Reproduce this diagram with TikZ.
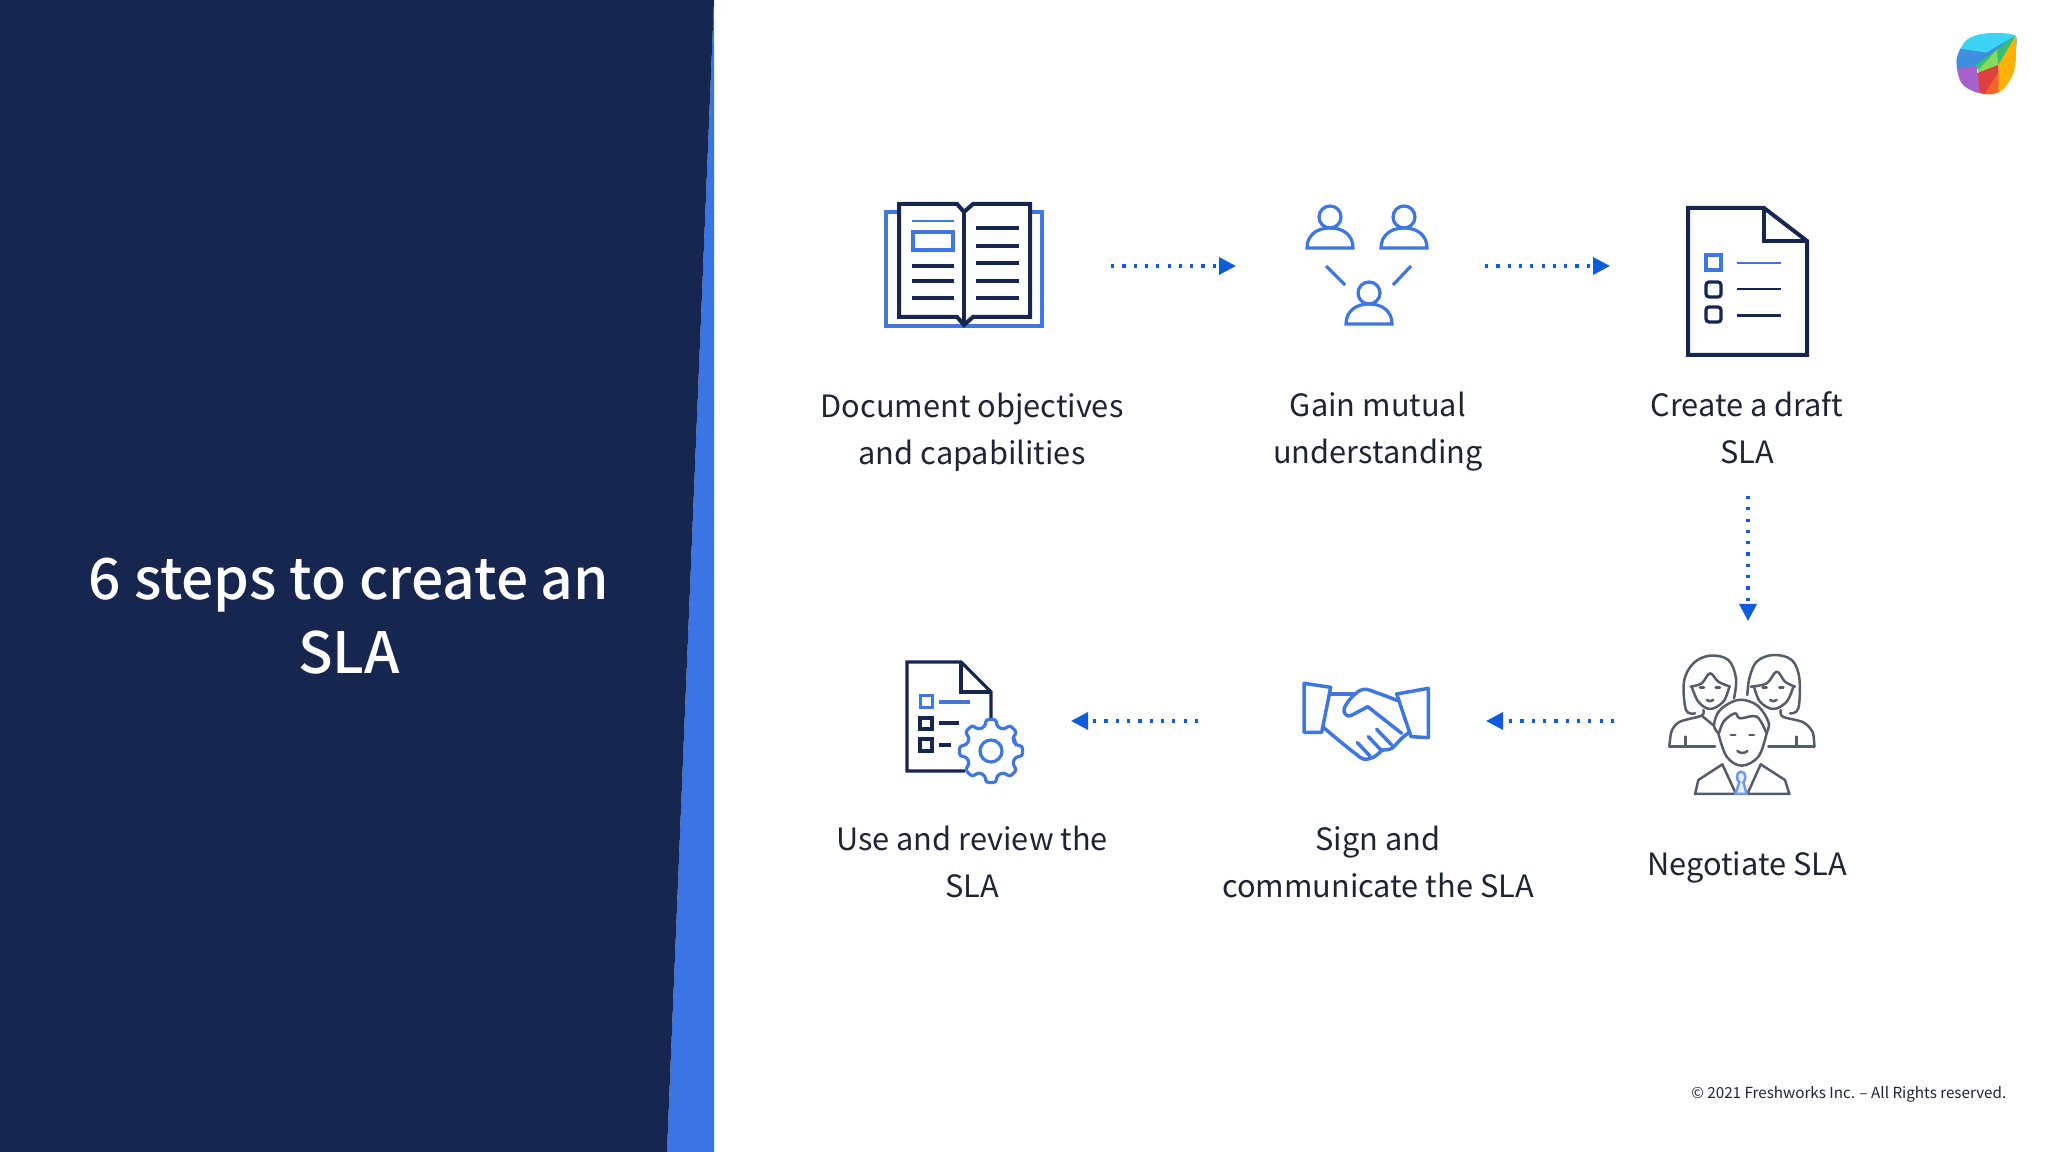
\documentclass[tikz,border=0pt]{standalone}
\usepackage{fontspec}
\setmainfont{Noto Sans CJK SC}
\newfontfamily\titlefont{Noto Sans CJK SC Medium}
\usetikzlibrary{arrows.meta}

\definecolor{navy}{HTML}{17264E}
\definecolor{wedge}{HTML}{3B74E4}
\definecolor{iconblue}{HTML}{3F76DF}
\definecolor{arrowblue}{HTML}{0F5BDC}
\definecolor{textgrey}{HTML}{1F2430}
\definecolor{facegrey}{HTML}{565C68}
\definecolor{logocyan}{HTML}{3CD3F5}
\definecolor{logoblue}{HTML}{3D8EDC}
\definecolor{logogreen}{HTML}{33C270}
\definecolor{logolime}{HTML}{86DB5A}
\definecolor{logoyellow}{HTML}{FFB000}
\definecolor{logored}{HTML}{DE4040}
\definecolor{logoorange}{HTML}{F2642A}
\definecolor{logopurple}{HTML}{A562CC}

\begin{document}
\begin{tikzpicture}[x=0.1mm,y=-0.1mm,
    darkline/.style={navy, line width=0.4mm},
    thinline/.style={navy, line width=0.32mm},
    blueline/.style={iconblue, line width=0.32mm},
    faceline/.style={facegrey, line width=0.25mm, line cap=round, line join=round},
    dotarrow/.style={arrowblue, line width=0.32mm, dash pattern=on 0.32mm off 0.81mm,
        -{Triangle[length=1.7mm,width=1.7mm]}},
    steplabel/.style={textgrey, align=center, font=\fontsize{8.75}{13.4}\selectfont}]
    \useasboundingbox (0,0) rectangle (2048,1152);

    % Left panel and its wedge
    \fill[wedge] (714,0) -- (714,1152) -- (667,1152) -- cycle;
    \fill[navy] (0,0) -- (714,0) -- (667,1152) -- (0,1152) -- cycle;
    \node[white, align=center, font=\titlefont\fontsize{16.2}{21.2}\selectfont] (title) at (349,616)
        {6 steps to create an\\SLA};

    % Logo
    \begin{scope}[shift={(1930,10)},scale=1/3]
        \begin{scope}
            \clip plot[smooth cycle, tension=0.55] coordinates {
                (254,76) (170,70) (110,90) (80,150) (95,220) (150,250) (210,245) (250,190) (258,120)
            };
            \fill[logocyan] (60,50) rectangle (270,160);
            \fill[logoblue] (60,112) -- (170,128) -- (258,76) -- (140,170) -- (60,182) -- cycle;
            \fill[logogreen] (258,76) -- (138,165) -- (150,195) -- (205,165) -- cycle;
            \fill[logolime] (200,120) -- (145,180) -- (150,195) -- (205,165) -- cycle;
            \fill[logoyellow] (258,76) -- (205,165) -- (205,260) -- (270,260) -- cycle;
            \fill[logored] (140,190) -- (205,165) -- (205,260) -- (150,260) -- cycle;
            \fill[logoorange] (205,185) -- (205,260) -- (160,260) -- cycle;
            \fill[logopurple] (60,178) -- (140,168) -- (150,260) -- (60,260) -- cycle;
        \end{scope}
    \end{scope}

    % Book
    \draw[blueline] (886,212) rectangle (1042,326);
    \draw[darkline, fill=white, line join=miter] (899,204) -- (957,204) -- (964,212) -- (973,204) -- (1030,204)
        -- (1030,317) -- (973,317) -- (964,325) -- (957,317) -- (899,317) -- cycle;
    \draw[darkline] (964,212) -- (964,325);
    \draw[iconblue, line width=0.2mm] (912,221) -- (954,221);
    \draw[blueline] (913,232) rectangle (953,250);
    \draw[thinline] (912,266) -- (954,266);
    \draw[thinline] (912,281) -- (954,281);
    \draw[thinline] (912,298) -- (954,298);
    \draw[thinline] (976,228) -- (1019,228);
    \draw[thinline] (976,246) -- (1019,246);
    \draw[thinline] (976,263) -- (1019,263);
    \draw[thinline] (976,281) -- (1019,281);
    \draw[thinline] (976,298) -- (1019,298);
    \node[steplabel] (document) at (972,432) {Document objectives\\and capabilities};

    % Three people
    \draw[blueline] (1330,217) circle (11);
    \draw[blueline] (1307,248) .. controls (1307,235) and (1317,228) .. (1330,228)
        .. controls (1343,228) and (1353,235) .. (1353,248) -- cycle;
    \draw[blueline] (1404,217) circle (11);
    \draw[blueline] (1381,248) .. controls (1381,235) and (1391,228) .. (1404,228)
        .. controls (1417,228) and (1427,235) .. (1427,248) -- cycle;
    \draw[blueline] (1369,293) circle (11);
    \draw[blueline] (1346,324) .. controls (1346,311) and (1356,304) .. (1369,304)
        .. controls (1382,304) and (1392,311) .. (1392,324) -- cycle;
    \draw[blueline] (1326,266) -- (1345,285);
    \draw[blueline] (1411,266) -- (1393,285);
    \node[steplabel] (mutual) at (1378,432) {Gain mutual\\understanding};

    % Draft document
    \draw[darkline, line join=miter] (1688,208) -- (1764,208) -- (1807,241) -- (1807,355) -- (1688,355) -- cycle;
    \draw[darkline, line join=miter] (1764,208) -- (1764,241) -- (1807,241);
    \draw[blueline] (1706,255) rectangle (1721,270);
    \draw[thinline, rounded corners=0.3mm] (1706,282) rectangle (1721,297);
    \draw[thinline, rounded corners=0.3mm] (1706,307) rectangle (1721,322);
    \draw[iconblue, line width=0.25mm] (1737,263) -- (1781,263);
    \draw[navy, line width=0.25mm] (1737,289) -- (1781,289);
    \draw[navy, line width=0.3mm] (1737,316) -- (1781,316);
    \node[steplabel] (draft) at (1747,428) {Create a draft\\SLA};

    % Three faces
    \begin{scope}[shift={(1660,645)},scale=1/3]
        % left woman
        \draw[faceline] plot[smooth, tension=0.6] coordinates {
            (105,205) (78,195) (72,110) (100,55) (150,32) (205,45) (228,100) (222,160)
        };
        \draw[faceline] plot[smooth, tension=0.6] coordinates {(92,125) (125,115) (150,85) (175,110) (210,125)};
        \draw[faceline] plot[smooth, tension=0.6] coordinates {(95,125) (115,170) (150,192) (190,170) (208,125)};
        \draw[faceline] plot[smooth, tension=0.5] coordinates {(28,305) (35,258) (60,230) (125,212) (130,195)};
        \draw[faceline] (125,212) -- (165,245);
        \draw[faceline] (28,305) -- (165,305);
        \draw[faceline] (77,275) -- (77,305);
        \draw[faceline] (120,127) -- (132,127);
        \draw[faceline] (167,127) -- (180,127);
        \draw[faceline] (140,165) .. controls (147,170) and (153,170) .. (160,165);
        % right woman
        \draw[faceline] plot[smooth, tension=0.6] coordinates {
            (262,150) (268,100) (290,50) (340,30) (395,45) (418,100) (415,190) (390,205)
        };
        \draw[faceline] plot[smooth, tension=0.6] coordinates {(272,125) (320,115) (350,80) (375,110) (405,125)};
        \draw[faceline] plot[smooth, tension=0.6] coordinates {(282,125) (300,170) (340,192) (380,170) (400,125)};
        \draw[faceline] plot[smooth, tension=0.5] coordinates {(362,195) (368,215) (430,232) (458,262) (463,305)};
        \draw[faceline] (325,305) -- (463,305);
        \draw[faceline] (410,275) -- (410,305);
        \draw[faceline] (308,127) -- (320,127);
        \draw[faceline] (358,127) -- (370,127);
        \draw[faceline] (330,165) .. controls (337,170) and (343,170) .. (350,165);
        % man in front
        \draw[faceline, fill=white] plot[smooth, tension=0.6] coordinates {
            (175,265) (162,240) (180,195) (235,165) (290,180) (325,230) (320,265)
            (295,335) (245,362) (200,335) (175,265)
        };
        \draw[faceline] plot[smooth, tension=0.6] coordinates {(178,262) (192,228) (225,205) (240,220) (290,215) (318,262)};
        \draw[faceline] (212,270) -- (226,270);
        \draw[faceline] (268,270) -- (282,270);
        \draw[faceline] (232,318) .. controls (242,326) and (252,326) .. (262,318);
        \draw[faceline, fill=white] (105,447) -- (115,405) -- (187,358) -- (228,447) -- cycle;
        \draw[faceline, fill=white] (388,447) -- (375,405) -- (302,358) -- (262,447) -- cycle;
        \draw[faceline] (105,447) -- (388,447);
        \draw[iconblue!75, line width=0.25mm, fill=iconblue!12] (243,380) .. controls (226,380) and (230,408) .. (238,412) -- (226,447) -- (260,447)
            -- (250,412) .. controls (258,408) and (260,380) .. (243,380) -- cycle;
    \end{scope}
    \node[steplabel] (negotiate) at (1747,867) {Negotiate SLA};

    % Handshake
    \begin{scope}[shift={(1295,670)},scale=1/3, blueline, line join=round, line cap=round, line width=0.35mm]
        \draw (27,40) -- (107,52) -- (80,187) -- (27,187) -- cycle;
        \draw (305,72) -- (400,55) -- (400,203) -- (348,200) -- cycle;
        \draw (107,72) -- (180,72);
        \draw plot[smooth, tension=0.6] coordinates {
            (308,92) (250,70) (205,58) (170,82) (147,118) (160,138) (190,125) (218,110)
        };
        \draw (218,110) -- (320,190);
        \draw plot[smooth, tension=0.6] coordinates {
            (85,172) (130,210) (180,250) (205,267) (235,262) (262,240)
        };
        \draw plot[smooth, tension=0.6] coordinates {(262,240) (290,235) (320,205) (345,185)};
        \draw (187,218) -- (225,258);
        \draw (220,200) -- (258,240);
        \draw (245,178) -- (290,225);
    \end{scope}
    \node[steplabel] (sign) at (1378,862) {Sign and\\communicate the SLA};

    % Review document with gear
    \draw[thinline, line join=miter] (991,720) -- (991,692) -- (961,662) -- (907,662) -- (907,771) -- (965,771);
    \draw[thinline, line join=miter] (961,662) -- (961,692) -- (991,692);
    \draw[iconblue, line width=0.3mm] (920,696) rectangle (932,708);
    \draw[thinline] (920,718) rectangle (932,729);
    \draw[thinline] (920,739) rectangle (932,751);
    \draw[iconblue, line width=0.32mm] (939,702) -- (970,702);
    \draw[thinline] (939,723) -- (959,723);
    \draw[thinline] (939,745) -- (951,745);
    \begin{scope}[shift={(991,751)}]
        \draw[blueline, fill=white, rounded corners=0.3mm] (-14:25)
            \foreach \a in {0,45,...,315} { -- (\a-14:25) -- (\a-9:32) -- (\a+9:32) -- (\a+14:25) } -- cycle;
        \draw[blueline] (0,0) circle (11);
    \end{scope}
    \node[steplabel] (review) at (972,862) {Use and review the\\SLA};

    % Arrow ends
    \coordinate (booktail) at (1111,266);
    \coordinate (peoplehead) at (1236,266);
    \coordinate (peopletail) at (1485,266);
    \coordinate (drafthead) at (1610,266);
    \coordinate (drafttail) at (1748,496);
    \coordinate (faceshead) at (1748,621);
    \coordinate (facestail) at (1614,721);
    \coordinate (handhead) at (1486,721);
    \coordinate (handtail) at (1198,721);
    \coordinate (gearhead) at (1071,721);

    % Dotted arrows
    \draw[dotarrow] (booktail) -- (peoplehead);
    \draw[dotarrow] (peopletail) -- (drafthead);
    \draw[dotarrow] (drafttail) -- (faceshead);
    \draw[dotarrow] (facestail) -- (handhead);
    \draw[dotarrow] (handtail) -- (gearhead);

    % Footer
    \node[textgrey, anchor=east, inner sep=0pt, font=\fontsize{4.33}{6}\selectfont] (footer) at (2007,1094)
        {© 2021 Freshworks Inc. – All Rights reserved.};
\end{tikzpicture}
\end{document}
